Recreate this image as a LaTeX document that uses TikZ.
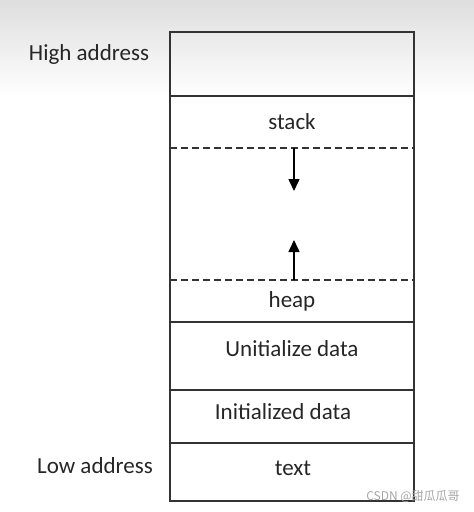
\documentclass[tikz,border=0pt]{standalone}
\usepackage{fontspec}
\setmainfont{Carlito}
\newfontfamily\cjk{Noto Sans CJK SC}
\usetikzlibrary{arrows.meta,positioning}

\begin{document}
\begin{tikzpicture}[
        x=1pt, y=-1pt,
        seg/.style={minimum width=244pt, inner sep=0pt, outer sep=0pt, text=black!85, font=\fontsize{23}{27}\selectfont},
        lbl/.style={inner sep=0pt, text=black!85, font=\fontsize{23}{27}\selectfont},
        wall/.style={line width=1.3pt, black!80},
        splitline/.style={wall, dash pattern=on 7pt off 4pt},
        growarrow/.style={-{Triangle[length=12pt, width=11pt]}, line width=1.5pt}
    ]
        \useasboundingbox (0,0) rectangle (474,512);
        \shade[top color=black!13, bottom color=white] (0,0) rectangle (474,96);

        % memory segments, top to bottom
        \node[seg, minimum height=64pt, anchor=north west] (top) at (170,32) {};
        \node[seg, minimum height=52pt, below=0pt of top] (stack) {stack};
        \node[seg, minimum height=132pt, below=0pt of stack] (gap) {};
        \node[seg, minimum height=42pt, below=0pt of gap] (heap) {heap};
        \node[seg, minimum height=68pt, below=0pt of heap] (bss) {};
        \node[seg, minimum height=53pt, below=0pt of bss] (data) {};
        \node[seg, minimum height=58pt, below=0pt of data] (textseg) {};

        \node[lbl] (bsslbl) at ([yshift=7pt]bss.center) {Unitialize data};
        \node[lbl] (datalbl) at ([xshift=-9pt, yshift=5pt]data.center) {Initialized data};
        \node[lbl] (textlbl) at ([xshift=1pt, yshift=4pt]textseg.center) {text};

        \node[lbl] (high) at (89,54) {High address};
        \node[lbl] (low) at (95,466) {Low address};

        % borders
        \draw[wall] (top.north west) rectangle (textseg.south east);
        \draw[wall] (top.south west) -- (top.south east);
        \draw[splitline] (stack.south west) -- (stack.south east);
        \draw[splitline] (heap.north west) -- (heap.north east);
        \draw[wall] (heap.south west) -- (heap.south east);
        \draw[wall] (bss.south west) -- (bss.south east);
        \draw[wall] (data.south west) -- (data.south east);

        % growth directions
        \coordinate (downtip) at ([xshift=2pt, yshift=-43pt]stack.south);
        \coordinate (uptip) at ([xshift=2pt, yshift=40pt]heap.north);
        \draw[growarrow] (stack.south -| downtip) -- (downtip);
        \draw[growarrow] (heap.north -| uptip) -- (uptip);

        \node[inner sep=0pt, text=black!35, font=\cjk\fontsize{12}{14}\selectfont] (mark) at (413,497) {CSDN @甜瓜瓜哥};
    \end{tikzpicture}
\end{document}
